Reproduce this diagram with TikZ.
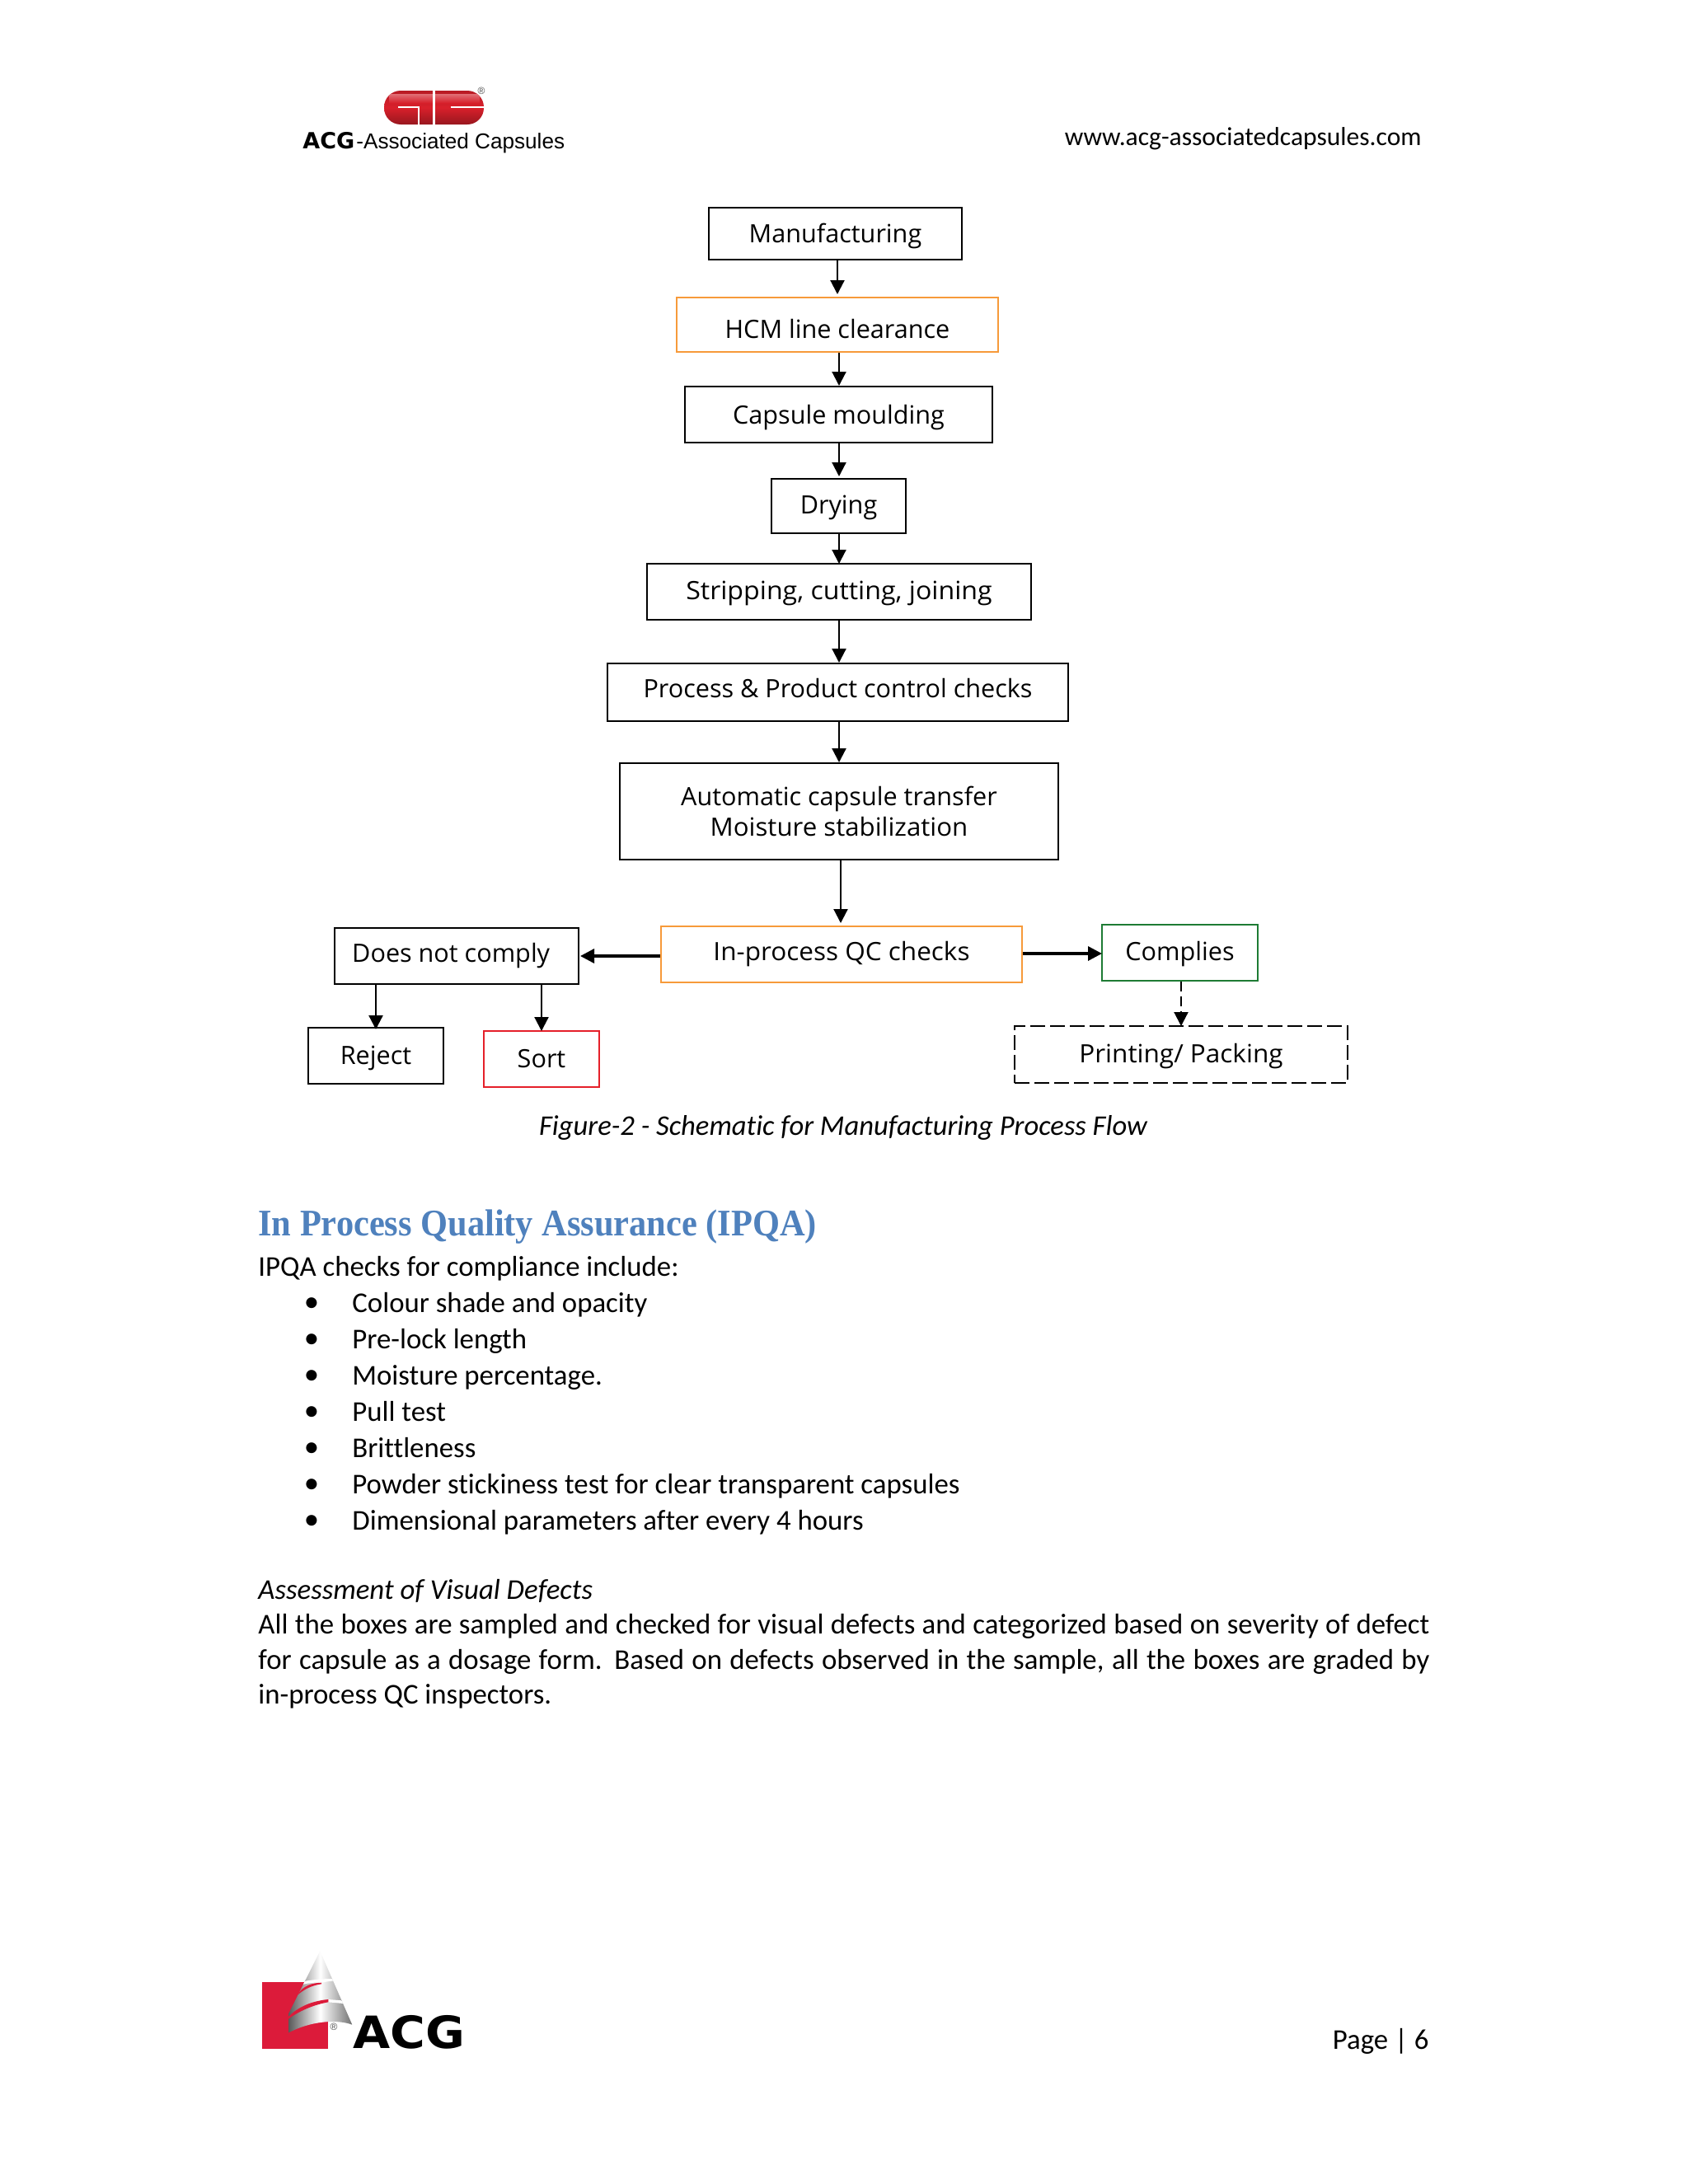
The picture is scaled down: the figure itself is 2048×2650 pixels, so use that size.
\documentclass[tikz,border=0pt]{standalone}
\usepackage{fontspec}
\setmainfont[Ligatures={TeX,NoCommon}]{Carlito}
\newfontfamily\diafont{Open Sans}
\newfontfamily\arialfont{Liberation Sans}
\newfontfamily\headfont{Liberation Serif}
\newfontfamily\logofont{DejaVu Sans}
\usetikzlibrary{arrows.meta}
\definecolor{qorange}{HTML}{F79A3A}
\definecolor{qgreen}{HTML}{1E7B34}
\definecolor{qred}{HTML}{E5202A}
\definecolor{qhead}{HTML}{4F81BD}
\definecolor{logored}{HTML}{DC1B3A}
\definecolor{pillred}{HTML}{D9202B}
\tikzset{
  flowbox/.style={draw=black,line width=1.2pt,inner sep=0pt,align=center,text=black,font=\diafont\fontsize{15.3}{18.5}\selectfont},
  boxo/.style={flowbox,draw=qorange},
  boxg/.style={flowbox,draw=qgreen},
  boxr/.style={flowbox,draw=qred},
  boxd/.style={flowbox,line width=1.3pt,dash pattern=on 9pt off 3pt},
  arr/.style={-{Triangle[length=8.5pt,width=8.5pt]},line width=1.1pt,black},
  arrthick/.style={arr,line width=1.7pt},
  arrdash/.style={arr,dash pattern=on 6pt off 3pt},
  body/.style={anchor=base west,inner sep=0pt,font=\fontsize{17.4}{22}\selectfont,text=black},
  bodyi/.style={body,font=\fontsize{17.4}{22}\selectfont\itshape},
  bul/.style={anchor=center,inner sep=0pt,font=\fontsize{18.4}{22}\selectfont},
}
\newcommand\bxn[7]{%
  \pgfmathsetmacro\bw{(#5-#3)/2}\pgfmathsetmacro\bh{(#6-#4)/2}%
  \node[#1,minimum width=\bw pt,minimum height=\bh pt] (#2) at ({(#3+#5)/2},{(#4+#6)/2}) {#7};}
\newcommand\tl[2]{\raisebox{#1}[\height][\depth]{#2}}
\newcommand\just[1]{\makebox[\linew][s]{#1}}
\newlength\linew
\setlength\linew{710.5pt}
\begin{document}
\begin{tikzpicture}[x=0.5pt,y=-0.5pt]
\useasboundingbox (0,0) rectangle (2048,2650);
\fill[white] (0,0) rectangle (2048,2650);

% --- top logo
\begin{scope}
\clip[rounded corners=10pt] (466,110) rectangle (587,151);
\shade[top color=pillred!85!black,bottom color=pillred!70!black,middle color=pillred] (466,110) rectangle (587,151);
\shade[top color=white!45!pillred,bottom color=pillred,opacity=.8] (472,114) rectangle (582,125);
\end{scope}
\draw[white,line width=1pt] (483,130) -- (508,130) -- (508,152);
\draw[white,line width=1.2pt] (526.5,109) -- (526.5,152);
\draw[white,line width=1pt] (547,130) -- (588,130);
\node[inner sep=0pt,font=\arialfont\fontsize{6}{7}\selectfont,text=black!70] (regtop) at (584,110) {®};
\node[anchor=base west,inner sep=0pt,font=\logofont\bfseries\fontsize{13.5}{16}\selectfont] (acgtop) at (367,180) {ACG};
\node[anchor=base west,inner sep=0pt,font=\arialfont\fontsize{13.07}{16}\selectfont] (assoc) at (432,180) {-Associated Capsules};
\node[anchor=base east,inner sep=0pt,font=\fontsize{15.77}{20}\selectfont] (url) at (1725,176) {www.acg-associatedcapsules.com};

% --- flow boxes
\bxn{flowbox}{mfg}{860}{252}{1167}{315}{\tl{-1.7pt}{Manufacturing}}
\bxn{boxo}{hcm}{821}{361}{1211}{427}{\tl{-2.5pt}{HCM line clearance}}
\bxn{flowbox}{mould}{831}{469}{1204}{537}{\tl{-1.7pt}{Capsule moulding}}
\bxn{flowbox}{dry}{936}{581}{1099}{647}{\tl{-0.8pt}{Drying}}
\bxn{flowbox}{strip}{785}{684}{1251}{752}{\tl{-0.8pt}{\scalebox{1.05}[1]{Stripping, cutting, joining}}}
\bxn{flowbox}{proc}{737}{805}{1296}{875}{\tl{2.5pt}{Process \& Product control checks}}
\bxn{flowbox}{auto}{752}{926}{1284}{1043}{Automatic capsule transfer\\\scalebox{1.02}[1]{Moisture stabilization}}
\bxn{boxo}{qc}{802}{1124}{1240}{1192}{\scalebox{1.03}[1]{In-process QC checks}}
\bxn{flowbox}{dnc}{406}{1126}{702}{1194}{\kern-6.8pt Does not comply}
\bxn{boxg}{comp}{1337}{1122}{1526}{1190}{\tl{-0.8pt}{Complies}}
\bxn{flowbox}{rej}{374}{1247}{538}{1315}{\tl{-1.7pt}{Reject}}
\bxn{boxr}{sort}{587}{1251}{727}{1319}{Sort}
\bxn{boxd}{print}{1231}{1245}{1635}{1314}{\tl{-0.8pt}{\scalebox{1.03}[1]{Printing/ Packing}}}

% --- connector free ends
\coordinate (e1) at (1016,357);
\coordinate (e2) at (1018,468);
\coordinate (e3) at (1018,578);
\coordinate (e4) at (1018,684);
\coordinate (e5) at (1018,804);
\coordinate (e6) at (1018,925);
\coordinate (e7) at (1020,1120);
\coordinate (e8) at (704,1160);
\coordinate (e9) at (1337,1157);
\coordinate (e10) at (456,1249);
\coordinate (e11) at (657,1251);
\coordinate (e12) at (1433,1245);

% --- connectors
\draw[arr] (e1 |- mfg.south) -- (e1);
\draw[arr] (e2 |- hcm.south) -- (e2);
\draw[arr] (e3 |- mould.south) -- (e3);
\draw[arr] (e4 |- dry.south) -- (e4);
\draw[arr] (e5 |- strip.south) -- (e5);
\draw[arr] (e6 |- proc.south) -- (e6);
\draw[arr] (e7 |- auto.south) -- (e7);
\draw[arrthick] (qc.west |- e8) -- (e8);
\draw[arrthick] (qc.east |- e9) -- (e9);
\draw[arr] (e10 |- dnc.south) -- (e10);
\draw[arr] (e11 |- dnc.south) -- (e11);
\draw[arrdash] (e12 |- comp.south) -- (e12);

% --- caption and body text
\node[anchor=base,inner sep=0pt,font=\fontsize{17.3}{22}\selectfont\itshape] (cap) at (1023,1377) {Figure-2 - Schematic for Manufacturing Process Flow};
\node[anchor=base west,inner sep=0pt,text=qhead,font=\headfont\bfseries\fontsize{22.8}{28}\selectfont] (head) at (313,1499) {\scalebox{.93}[1]{In Process Quality Assurance (IPQA)}};
\node[body] (t0) at (313,1548) {IPQA checks for compliance include:};
\node[body] (t1) at (427,1592) {Colour shade and opacity};
\node[body] (t2) at (427,1636) {Pre-lock length};
\node[body] (t3) at (427,1680) {Moisture percentage.};
\node[body] (t4) at (427,1724) {Pull test};
\node[body] (t5) at (427,1768) {Brittleness};
\node[body] (t6) at (427,1812) {Powder stickiness test for clear transparent capsules};
\node[body] (t7) at (427,1856) {Dimensional parameters after every 4 hours};
\foreach \yy/\nm in {1583/b1,1627/b2,1671/b3,1715/b4,1759/b5,1803/b6,1847/b7}
  \node[bul] (\nm) at (378,\yy) {•};
\node[bodyi] (as) at (313,1940) {Assessment of Visual Defects};
\node[body] (p1) at (313,1982) {\just{All the boxes are sampled and checked for visual defects and categorized based on severity of defect}};
\node[body] (p2) at (313,2025) {\just{for capsule as a dosage form. Based on defects observed in the sample, all the boxes are graded by}};
\node[body] (p3) at (313,2067) {in-process QC inspectors.};
\node[anchor=base east,inner sep=0pt,font=\fontsize{17.4}{22}\selectfont] (page) at (1734,2486) {Page | 6};

% --- bottom logo
\fill[logored] (318,2405) rectangle (398,2486);
\begin{scope}
\clip (388.3,2367.3) -- (427.3,2456.7)
  .. controls (410,2450) and (370,2450) .. (333.3,2476.7) -- cycle;
\shade[left color=black!65,right color=black!55,middle color=white] (350,2360) rectangle (427,2480);
\fill[white] (369,2404) .. controls (380,2402) and (392,2401) .. (403,2401) -- (404,2403.5) .. controls (398,2404) and (394,2405) .. (390,2405.7) .. controls (382,2405) and (375,2406) .. (367,2408) -- cycle;
\fill[logored] (390,2405.7) .. controls (380,2406) and (368,2408) .. (360,2421.7) .. controls (368,2414) and (378,2409) .. (390,2407.3) -- cycle;
\fill[white] (398.3,2426) -- (414.3,2427.3) -- (417,2431) -- (398.3,2429.3) -- cycle;
\fill[logored] (398.3,2426) .. controls (375,2428) and (355,2438) .. (343.3,2455) .. controls (358,2442) and (378,2433) .. (398.3,2429.3) -- cycle;
\end{scope}
\node[inner sep=0pt,font=\arialfont\fontsize{6}{7}\selectfont,text=black!70] (regbot) at (405,2459) {®};
\node[anchor=base west,inner sep=0pt,font=\logofont\bfseries\fontsize{27}{30}\selectfont] (acgbot) at (428,2485) {\scalebox{1.08}[1]{ACG}};
\end{tikzpicture}
\end{document}
